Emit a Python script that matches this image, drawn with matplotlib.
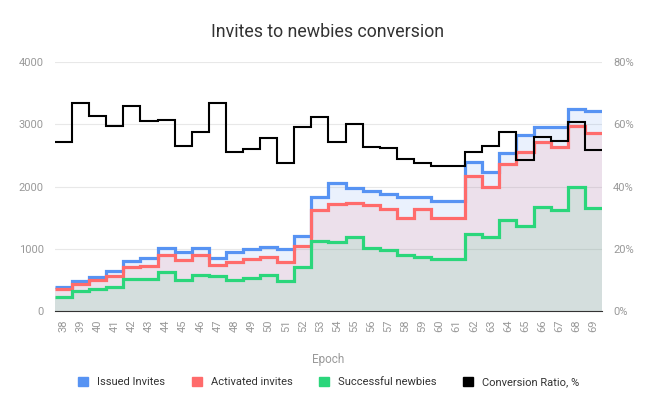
import numpy as np
import matplotlib.pyplot as plt
from matplotlib.patches import Patch

plt.rcParams['font.family'] = ['Roboto', 'DejaVu Sans']

# Data
epochs = list(range(38, 70))
issued = [385, 487, 541, 648, 808, 857, 1017, 942, 1007, 846, 953, 996, 1033, 1001, 1205, 1826,
          2062, 1981, 1933, 1874, 1831, 1836, 1767, 1767, 2399, 2228, 2543, 2822, 2961, 2961, 3250, 3208]
activated = [348, 428, 498, 557, 712, 728, 900, 814, 900, 739, 787, 835, 873, 793, 1050, 1622,
             1725, 1740, 1697, 1644, 1489, 1633, 1489, 1489, 2169, 1997, 2361, 2549, 2720, 2640, 2972, 2859]
newbies = [220, 326, 353, 390, 519, 509, 627, 498, 578, 562, 493, 525, 573, 477, 712, 1130,
           1110, 1183, 1017, 985, 900, 867, 830, 830, 1237, 1183, 1462, 1371, 1665, 1622, 1987, 1654]
ratio = [54.4, 66.7, 62.7, 59.5, 65.8, 60.9, 61.3, 52.9, 57.6, 66.9, 51.2, 51.9, 55.5, 47.4, 59.2, 62.3,
         54.3, 60.1, 52.8, 52.5, 48.9, 47.4, 46.7, 46.7, 51.1, 53.0, 57.5, 48.4, 56.0, 54.7, 60.7, 51.7]

blue = '#5793f3'
red = '#ff6b6b'
green = '#2bd67b'
grey = '#999999'

fig = plt.figure(figsize=(6.55, 4.11), dpi=100)
ax = fig.add_axes([0.084, 0.2433, 0.835, 0.6058])
ax2 = ax.twinx()

edges = np.arange(len(epochs) + 1) - 0.5

# area fills + step lines
for vals, col in [(issued, blue), (activated, red), (newbies, green)]:
    ax.stairs(vals, edges, fill=True, color=col, alpha=0.12, linewidth=0)
for vals, col in [(issued, blue), (activated, red), (newbies, green)]:
    ax.stairs(vals, edges, color=col, linewidth=2.3, baseline=None)

ax2.stairs(ratio, edges, color='black', linewidth=1.5, baseline=None)

ax.set_xlim(-0.5, len(epochs) - 0.5)
ax.set_ylim(0, 4000)
ax2.set_ylim(0, 80)
ax.set_yticks([0, 1000, 2000, 3000, 4000])
ax2.set_yticks([0, 20, 40, 60, 80])
ax2.set_yticklabels([f'{v}%' for v in [0, 20, 40, 60, 80]])
ax.set_xticks(range(len(epochs)))
ax.set_xticklabels([str(e) for e in epochs], rotation=90)

ax.grid(axis='y', color='#e8e8e8', linewidth=0.8)
ax.set_axisbelow(True)
for a in (ax, ax2):
    for s in a.spines.values():
        s.set_visible(False)
    a.tick_params(length=0, colors=grey, labelsize=8)
ax.spines['bottom'].set_visible(True)
ax.spines['bottom'].set_color('#333333')
ax.tick_params(axis='y', pad=8)
ax2.tick_params(axis='y', pad=8)
ax.tick_params(axis='x', pad=6)

ax.set_xlabel('Epoch', color=grey, fontsize=8.5, labelpad=15)
fig.suptitle('Invites to newbies conversion', y=0.945, fontsize=12.8, color='#333333')

handles = [Patch(color=blue), Patch(color=red), Patch(color=green), Patch(color='black')]
labels = ['Issued Invites', 'Activated invites', 'Successful newbies', 'Conversion Ratio, %']
leg = fig.legend(handles, labels, loc='center', bbox_to_anchor=(0.502, 0.07), ncol=4,
                 frameon=False, fontsize=8, handlelength=0.9, handleheight=0.9,
                 handletextpad=0.8, columnspacing=2.4)
for t in leg.get_texts():
    t.set_color('#333333')

fig.savefig('out.png', dpi=100)
